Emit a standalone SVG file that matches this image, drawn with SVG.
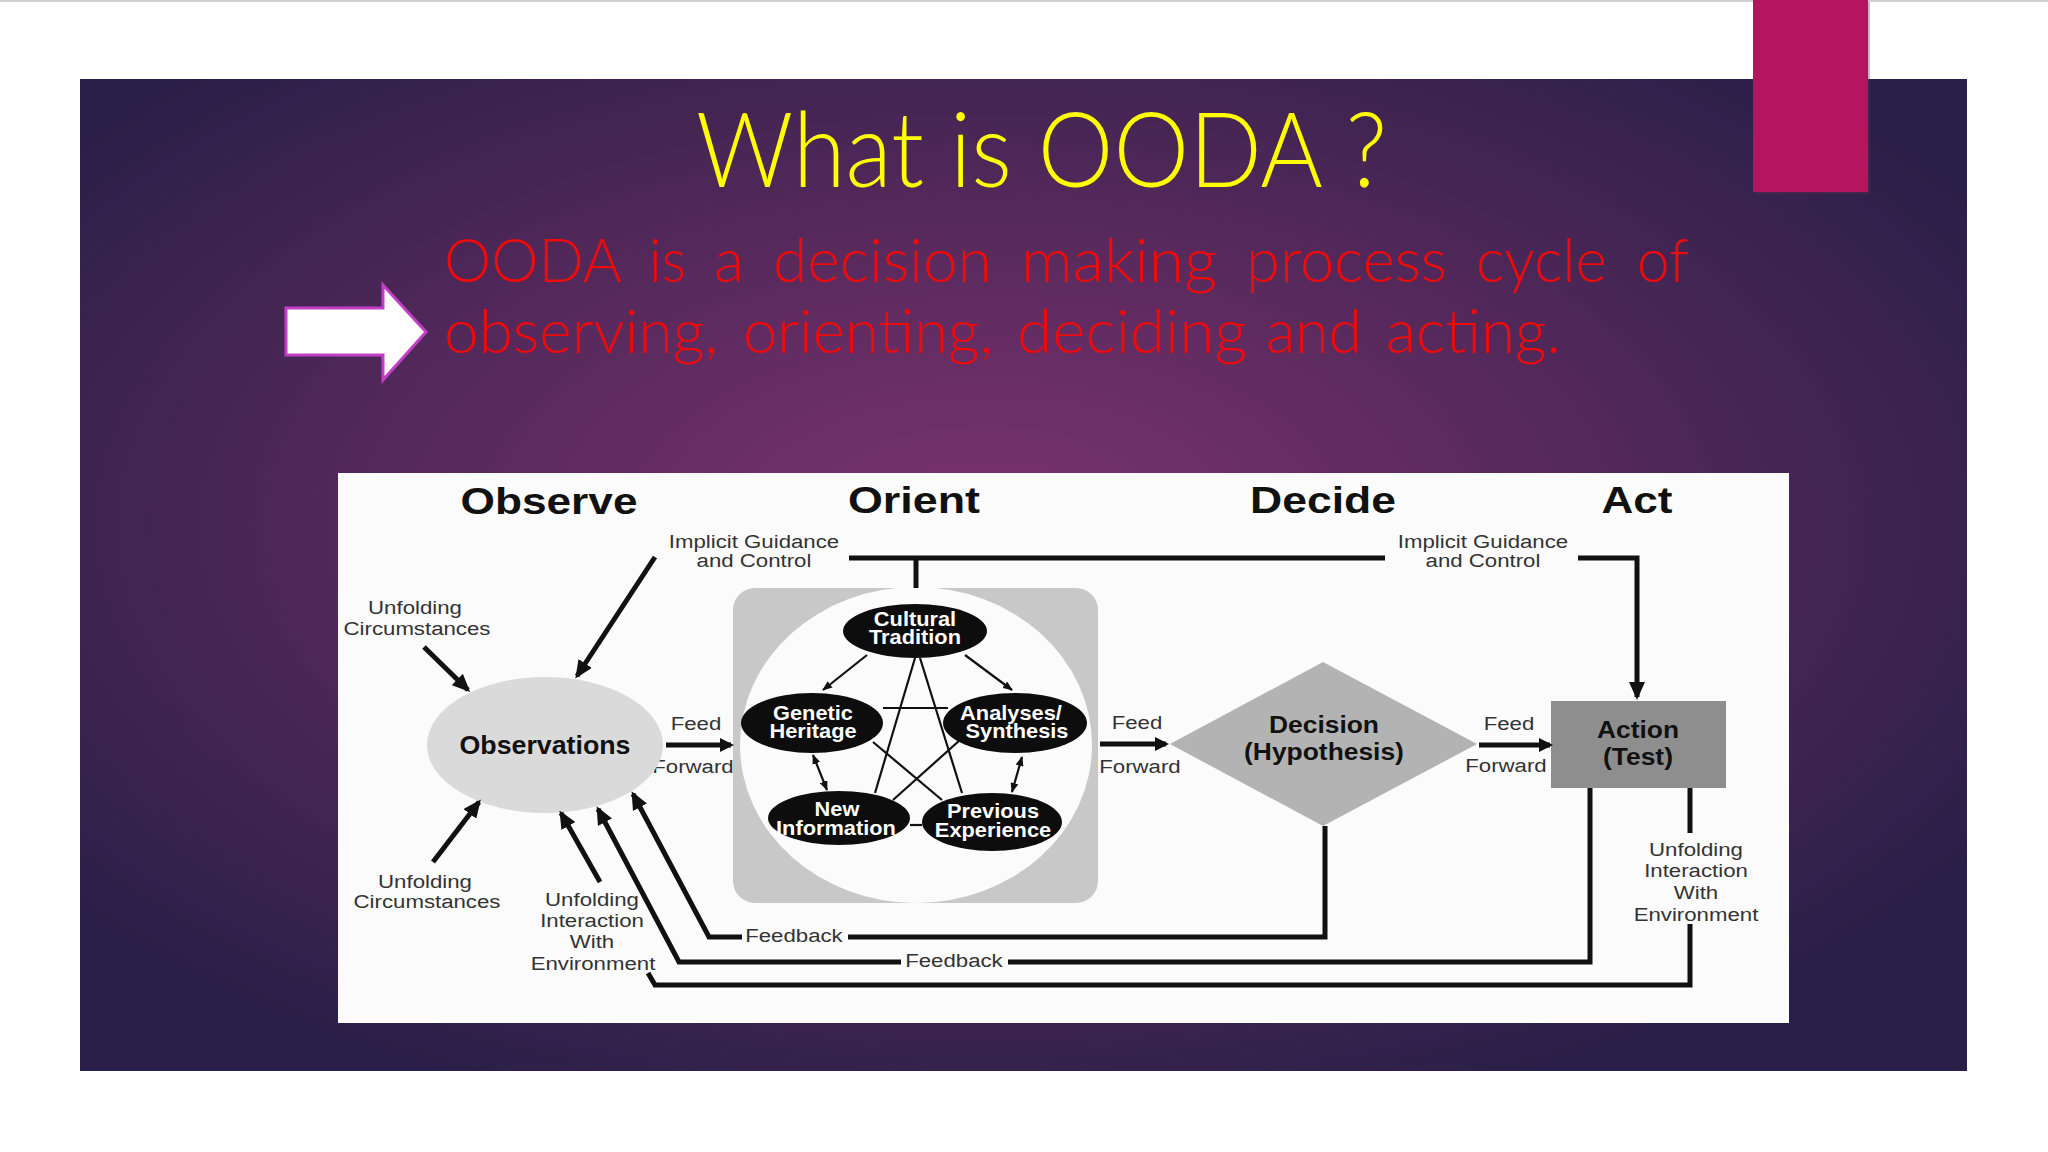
<svg xmlns="http://www.w3.org/2000/svg" width="2048" height="1152" viewBox="0 0 2048 1152">
<defs>
  <radialGradient id="bg" cx="0.48" cy="0.45" r="0.62">
    <stop offset="0" stop-color="#7b336f"/>
    <stop offset="0.45" stop-color="#5a2a5d"/>
    <stop offset="1" stop-color="#2a1f48"/>
  </radialGradient>
  <marker id="ah" markerUnits="userSpaceOnUse" markerWidth="18" markerHeight="16" refX="15" refY="8" orient="auto">
    <path d="M0,0 L18,8 L0,16 z" fill="#111"/>
  </marker>
  <marker id="ahs" markerUnits="userSpaceOnUse" markerWidth="14" markerHeight="14" refX="11" refY="7" orient="auto">
    <path d="M0,0 L14,7 L0,14 z" fill="#111"/>
  </marker>
  <marker id="sm" markerUnits="userSpaceOnUse" markerWidth="10" markerHeight="8" refX="9" refY="4" orient="auto">
    <path d="M0,0 L10,4 L0,8 z" fill="#111"/>
  </marker>
  <marker id="sms" markerUnits="userSpaceOnUse" markerWidth="10" markerHeight="8" refX="1" refY="4" orient="auto">
    <path d="M10,0 L0,4 L10,8 z" fill="#111"/>
  </marker>
</defs>
<style>
  .hd{font-family:"Liberation Sans",Arial,sans-serif;font-weight:bold;font-size:36px;fill:#111;text-anchor:middle}
  .lb{font-family:"Liberation Sans",Arial,sans-serif;font-size:19px;fill:#333;text-anchor:middle;transform-box:fill-box;transform-origin:center;transform:scaleX(1.17)}
  .nd{font-family:"Liberation Sans",Arial,sans-serif;font-weight:bold;font-size:24px;fill:#111;text-anchor:middle;transform-box:fill-box;transform-origin:center;transform:scaleX(1.1)}
  .wn{font-family:"Liberation Sans",Arial,sans-serif;font-weight:bold;font-size:20px;fill:#fff;text-anchor:middle;transform-box:fill-box;transform-origin:center;transform:scaleX(1.09)}
  .thick{fill:none;stroke:#111;stroke-width:5}
  .thin{fill:none;stroke:#111;stroke-width:2.2}
  .red{font-family:Lato,"Open Sans",sans-serif;font-weight:300;font-size:62px;fill:#f00a0a}
</style>

<rect x="0" y="0" width="2048" height="1152" fill="#ffffff"/>
<rect x="0" y="0" width="2048" height="2" fill="#cfcfcf"/>
<rect x="80" y="79" width="1887" height="992" fill="url(#bg)"/>
<rect x="1755" y="2" width="115" height="192" fill="#6a2a50" opacity="0.35"/>
<rect x="1753" y="0" width="115" height="192" fill="#b5145f"/>

<text x="696" y="187" font-family="Lato,'Open Sans',sans-serif" font-weight="300" font-size="104" fill="#ffff00" textLength="691" lengthAdjust="spacingAndGlyphs">What is OODA ?</text>

<g id="subtitle-arrow">
  <polygon points="286,308 383,308 383,285 426,332 383,380 383,355 286,355" fill="#ffffff" stroke="#c23ec6" stroke-width="3"/>
</g>

<text class="red" y="282"><tspan x="444" textLength="176" lengthAdjust="spacingAndGlyphs">OODA</tspan> <tspan x="649" textLength="37" lengthAdjust="spacingAndGlyphs">is</tspan> <tspan x="714" textLength="30" lengthAdjust="spacingAndGlyphs">a</tspan> <tspan x="773" textLength="219" lengthAdjust="spacingAndGlyphs">decision</tspan> <tspan x="1021" textLength="196" lengthAdjust="spacingAndGlyphs">making</tspan> <tspan x="1246" textLength="201" lengthAdjust="spacingAndGlyphs">process</tspan> <tspan x="1476" textLength="131" lengthAdjust="spacingAndGlyphs">cycle</tspan> <tspan x="1637" textLength="52" lengthAdjust="spacingAndGlyphs">of</tspan></text>
<text class="red" y="353"><tspan x="444" textLength="274" lengthAdjust="spacingAndGlyphs">observing,</tspan> <tspan x="743" textLength="250" lengthAdjust="spacingAndGlyphs">orienting,</tspan> <tspan x="1017" textLength="230" lengthAdjust="spacingAndGlyphs">deciding</tspan> <tspan x="1266" textLength="96" lengthAdjust="spacingAndGlyphs">and</tspan> <tspan x="1386" textLength="175" lengthAdjust="spacingAndGlyphs">acting.</tspan></text>

<!-- diagram panel -->
<rect x="338" y="473" width="1451" height="550" fill="#fbfbfb"/>

<g id="headers">
  <text class="hd" x="549" y="514" textLength="177" lengthAdjust="spacingAndGlyphs">Observe</text>
  <text class="hd" x="914" y="513" textLength="132" lengthAdjust="spacingAndGlyphs">Orient</text>
  <text class="hd" x="1323" y="513" textLength="146" lengthAdjust="spacingAndGlyphs">Decide</text>
  <text class="hd" x="1637" y="513" textLength="71" lengthAdjust="spacingAndGlyphs">Act</text>
</g>

<g id="labels">
  <text class="lb" x="754" y="548">Implicit Guidance</text>
  <text class="lb" x="754" y="567">and Control</text>
  <text class="lb" x="1483" y="548">Implicit Guidance</text>
  <text class="lb" x="1483" y="567">and Control</text>
  <text class="lb" x="415" y="614">Unfolding</text>
  <text class="lb" x="417" y="635">Circumstances</text>
  <text class="lb" x="425" y="888">Unfolding</text>
  <text class="lb" x="427" y="908">Circumstances</text>
  <text class="lb" x="592" y="906">Unfolding</text>
  <text class="lb" x="592" y="927">Interaction</text>
  <text class="lb" x="592" y="948">With</text>
  <text class="lb" x="593" y="970">Environment</text>
  <text class="lb" x="1696" y="856">Unfolding</text>
  <text class="lb" x="1696" y="877">Interaction</text>
  <text class="lb" x="1696" y="899">With</text>
  <text class="lb" x="1696" y="921">Environment</text>
  <text class="lb" x="696" y="730">Feed</text>
  <text class="lb" x="693" y="773">Forward</text>
  <text class="lb" x="1137" y="729">Feed</text>
  <text class="lb" x="1140" y="773">Forward</text>
  <text class="lb" x="1509" y="730">Feed</text>
  <text class="lb" x="1506" y="772">Forward</text>
  <text class="lb" x="794" y="942">Feedback</text>
  <text class="lb" x="954" y="967">Feedback</text>
</g>

<g id="observations">
  <ellipse cx="545" cy="745" rx="118" ry="68" fill="#dadada"/>
  <text class="nd" x="545" y="754" style="font-size:26px;transform:scaleX(1.03)">Observations</text>
</g>

<g id="orient">
  <rect x="733" y="588" width="365" height="315" rx="22" fill="#c8c8c8"/>
  <ellipse cx="916" cy="745" rx="176" ry="158" fill="#fbfbfb"/>
  <g id="orient-links">
    <line class="thin" x1="867" y1="655" x2="823" y2="690" marker-end="url(#sm)"/>
    <line class="thin" x1="965" y1="655" x2="1012" y2="690" marker-end="url(#sm)"/>
    <line class="thin" x1="915" y1="658" x2="875" y2="793"/>
    <line class="thin" x1="920" y1="658" x2="962" y2="793"/>
    <line class="thin" x1="883" y1="708" x2="948" y2="708"/>
    <line class="thin" x1="873" y1="742" x2="942" y2="800"/>
    <line class="thin" x1="960" y1="740" x2="893" y2="800"/>
    <line class="thin" x1="813" y1="755" x2="827" y2="790" marker-start="url(#sms)" marker-end="url(#sm)"/>
    <line class="thin" x1="1022" y1="757" x2="1012" y2="792" marker-start="url(#sms)" marker-end="url(#sm)"/>
    <line class="thin" x1="910" y1="825" x2="922" y2="825"/>
  </g>
  <g id="cultural">
    <ellipse cx="915" cy="631" rx="72" ry="27" fill="#0d0d0d"/>
    <text class="wn" x="915" y="626">Cultural</text>
    <text class="wn" x="915" y="644">Tradition</text>
  </g>
  <g id="genetic">
    <ellipse cx="812" cy="723" rx="71" ry="30" fill="#0d0d0d"/>
    <text class="wn" x="813" y="720">Genetic</text>
    <text class="wn" x="813" y="738">Heritage</text>
  </g>
  <g id="analyses">
    <ellipse cx="1015" cy="723" rx="72" ry="30" fill="#0d0d0d"/>
    <text class="wn" x="1011" y="720">Analyses/</text>
    <text class="wn" x="1017" y="738">Synthesis</text>
  </g>
  <g id="newinfo">
    <ellipse cx="839" cy="818" rx="71" ry="27" fill="#0d0d0d"/>
    <text class="wn" x="837" y="816">New</text>
    <text class="wn" x="836" y="835">Information</text>
  </g>
  <g id="previous">
    <ellipse cx="992" cy="822" rx="70" ry="29" fill="#0d0d0d"/>
    <text class="wn" x="993" y="818">Previous</text>
    <text class="wn" x="993" y="837">Experience</text>
  </g>
</g>

<g id="decision">
  <polygon points="1170,744 1323,662 1477,744 1323,826" fill="#b3b3b3"/>
  <text class="nd" x="1324" y="733">Decision</text>
  <text class="nd" x="1324" y="760">(Hypothesis)</text>
</g>

<g id="action">
  <rect x="1551" y="701" width="175" height="87" fill="#8e8e8e"/>
  <text class="nd" x="1638" y="738">Action</text>
  <text class="nd" x="1638" y="765">(Test)</text>
</g>

<g id="connectors">
  <path class="thick" d="M424,647 L468,690" marker-end="url(#ah)"/>
  <path class="thick" d="M655,557 L577,676" marker-end="url(#ah)"/>
  <path class="thick" d="M433,862 L479,802" marker-end="url(#ah)"/>
  <path class="thick" d="M600,882 L561,813" marker-end="url(#ah)"/>
  <path class="thick" d="M666,745 H731" marker-end="url(#ahs)"/>
  <path class="thick" d="M1100,744 H1166" marker-end="url(#ahs)"/>
  <path class="thick" d="M1479,745 H1550" marker-end="url(#ahs)"/>
  <path class="thick" d="M849,558 H1385"/>
  <path class="thick" d="M916,558 V588"/>
  <path class="thick" d="M1578,558 H1637 V697" marker-end="url(#ah)"/>
  <path class="thick" d="M1325,826 V937 H848 M742,937 H709 L633,794" marker-end="url(#ah)"/>
  <path class="thick" d="M1590,788 V962 H1008 M901,962 H679 L598,809" marker-end="url(#ah)"/>
  <path class="thick" d="M1690,788 V833"/>
  <path class="thick" d="M1690,924 V985 H655 L648,973"/>
</g>
</svg>
